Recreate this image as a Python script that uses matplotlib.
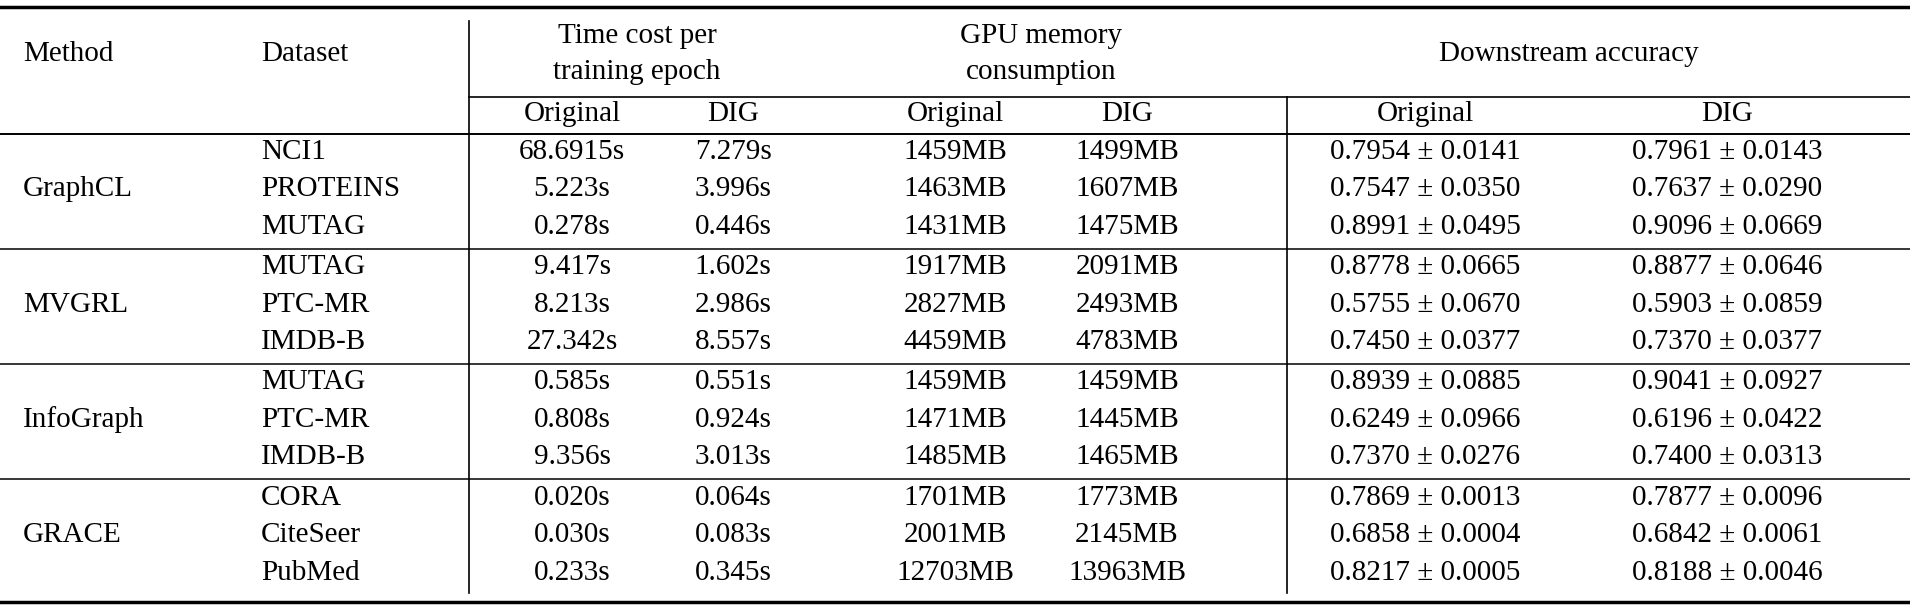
import matplotlib
matplotlib.use("Agg")
import matplotlib.pyplot as plt

methods = ["GraphCL", "MVGRL", "InfoGraph", "GRACE"]
datasets = [["NCI1", "PROTEINS", "MUTAG"], ["MUTAG", "PTC-MR", "IMDB-B"],
            ["MUTAG", "PTC-MR", "IMDB-B"], ["CORA", "CiteSeer", "PubMed"]]
time_orig = ["68.6915s", "5.223s", "0.278s", "9.417s", "8.213s", "27.342s",
             "0.585s", "0.808s", "9.356s", "0.020s", "0.030s", "0.233s"]
time_dig = ["7.279s", "3.996s", "0.446s", "1.602s", "2.986s", "8.557s",
            "0.551s", "0.924s", "3.013s", "0.064s", "0.083s", "0.345s"]
mem_orig = ["1459MB", "1463MB", "1431MB", "1917MB", "2827MB", "4459MB",
            "1459MB", "1471MB", "1485MB", "1701MB", "2001MB", "12703MB"]
mem_dig = ["1499MB", "1607MB", "1475MB", "2091MB", "2493MB", "4783MB",
           "1459MB", "1445MB", "1465MB", "1773MB", "2145MB", "13963MB"]
acc_orig = ["0.7954 ± 0.0141", "0.7547 ± 0.0350", "0.8991 ± 0.0495",
            "0.8778 ± 0.0665", "0.5755 ± 0.0670", "0.7450 ± 0.0377",
            "0.8939 ± 0.0885", "0.6249 ± 0.0966", "0.7370 ± 0.0276",
            "0.7869 ± 0.0013", "0.6858 ± 0.0004", "0.8217 ± 0.0005"]
acc_dig = ["0.7961 ± 0.0143", "0.7637 ± 0.0290", "0.9096 ± 0.0669",
           "0.8877 ± 0.0646", "0.5903 ± 0.0859", "0.7370 ± 0.0377",
           "0.9041 ± 0.0927", "0.6196 ± 0.0422", "0.7400 ± 0.0313",
           "0.7877 ± 0.0096", "0.6842 ± 0.0061", "0.8188 ± 0.0046"]

W, H = 1910, 605
fig = plt.figure(figsize=(W / 100, H / 100), dpi=100)
ax = fig.add_axes([0, 0, 1, 1])
ax.set_xlim(0, W)
ax.set_ylim(H, 0)
ax.axis("off")
FONT = dict(family="Liberation Serif", fontsize=21, color="black")

def t(x, y, s, ha="center"):
    ax.text(x, y, s, ha=ha, va="center", **FONT)

# rules
ax.plot([0, W], [7, 7], color="black", lw=2.5)
ax.plot([0, W], [134, 134], color="black", lw=1.4)
ax.plot([469, W], [97, 97], color="black", lw=1.2)
ax.plot([0, W], [602, 602], color="black", lw=2.5)
for y in [249, 364, 479]:
    ax.plot([0, W], [y, y], color="black", lw=1.1)
ax.plot([469, 469], [21, 593], color="black", lw=1.2)
ax.plot([1287, 1287], [97, 593], color="black", lw=1.2)

# headers
t(23, 54, "Method", ha="left")
t(261, 54, "Dataset", ha="left")
t(637, 36, "Time cost per")
t(637, 72, "training epoch")
t(1041, 36, "GPU memory")
t(1041, 72, "consumption")
t(1569, 54, "Downstream accuracy")
cols = [572, 733, 955, 1127, 1425, 1727]
for x, s in zip(cols, ["Original", "DIG"] * 3):
    t(x, 114, s)

# body
row_y0, dy, block = 152, 37.5, 115.2
for i, m in enumerate(methods):
    yb = row_y0 + i * block
    t(23, yb + dy, m, ha="left")
    for j, d in enumerate(datasets[i]):
        y = yb + j * dy
        k = i * 3 + j
        t(261, y, d, ha="left")
        for x, arr in zip(cols, [time_orig, time_dig, mem_orig, mem_dig, acc_orig, acc_dig]):
            t(x, y, arr[k])

fig.savefig("out.png", dpi=100)
